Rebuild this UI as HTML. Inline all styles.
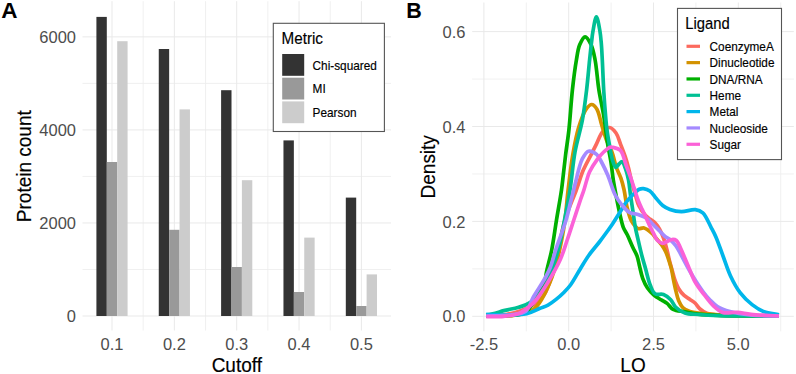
<!DOCTYPE html>
<html><head><meta charset="utf-8"><style>
html,body{margin:0;padding:0;background:#fff;}
svg{display:block;font-family:"Liberation Sans",sans-serif;}
</style></head><body>
<svg width="796" height="374" viewBox="0 0 796 374">
<rect width="796" height="374" fill="#fff"/>
<line x1="82.5" y1="269.48" x2="391.0" y2="269.48" stroke="#EDEDED" stroke-width="0.85"/>
<line x1="82.5" y1="176.44" x2="391.0" y2="176.44" stroke="#EDEDED" stroke-width="0.85"/>
<line x1="82.5" y1="83.40" x2="391.0" y2="83.40" stroke="#EDEDED" stroke-width="0.85"/>
<line x1="143.17" y1="1.2" x2="143.17" y2="330.5" stroke="#EDEDED" stroke-width="0.85"/>
<line x1="205.52" y1="1.2" x2="205.52" y2="330.5" stroke="#EDEDED" stroke-width="0.85"/>
<line x1="267.88" y1="1.2" x2="267.88" y2="330.5" stroke="#EDEDED" stroke-width="0.85"/>
<line x1="330.23" y1="1.2" x2="330.23" y2="330.5" stroke="#EDEDED" stroke-width="0.85"/>
<line x1="82.5" y1="316.00" x2="391.0" y2="316.00" stroke="#E9E9E9" stroke-width="1.0"/>
<line x1="82.5" y1="222.96" x2="391.0" y2="222.96" stroke="#E9E9E9" stroke-width="1.0"/>
<line x1="82.5" y1="129.92" x2="391.0" y2="129.92" stroke="#E9E9E9" stroke-width="1.0"/>
<line x1="82.5" y1="36.88" x2="391.0" y2="36.88" stroke="#E9E9E9" stroke-width="1.0"/>
<line x1="112.00" y1="1.2" x2="112.00" y2="330.5" stroke="#E9E9E9" stroke-width="1.0"/>
<line x1="174.35" y1="1.2" x2="174.35" y2="330.5" stroke="#E9E9E9" stroke-width="1.0"/>
<line x1="236.70" y1="1.2" x2="236.70" y2="330.5" stroke="#E9E9E9" stroke-width="1.0"/>
<line x1="299.05" y1="1.2" x2="299.05" y2="330.5" stroke="#E9E9E9" stroke-width="1.0"/>
<line x1="361.40" y1="1.2" x2="361.40" y2="330.5" stroke="#E9E9E9" stroke-width="1.0"/>
<rect x="96.41" y="16.90" width="10.39" height="299.10" fill="#333333"/>
<rect x="106.80" y="162.00" width="10.39" height="154.00" fill="#999999"/>
<rect x="117.20" y="41.20" width="10.39" height="274.80" fill="#CCCCCC"/>
<rect x="158.76" y="49.00" width="10.39" height="267.00" fill="#333333"/>
<rect x="169.15" y="229.80" width="10.39" height="86.20" fill="#999999"/>
<rect x="179.55" y="109.40" width="10.39" height="206.60" fill="#CCCCCC"/>
<rect x="221.11" y="90.20" width="10.39" height="225.80" fill="#333333"/>
<rect x="231.50" y="267.00" width="10.39" height="49.00" fill="#999999"/>
<rect x="241.90" y="180.20" width="10.39" height="135.80" fill="#CCCCCC"/>
<rect x="283.46" y="140.40" width="10.39" height="175.60" fill="#333333"/>
<rect x="293.85" y="292.00" width="10.39" height="24.00" fill="#999999"/>
<rect x="304.25" y="237.60" width="10.39" height="78.40" fill="#CCCCCC"/>
<rect x="345.81" y="197.60" width="10.39" height="118.40" fill="#333333"/>
<rect x="356.20" y="306.00" width="10.39" height="10.00" fill="#999999"/>
<rect x="366.60" y="274.40" width="10.39" height="41.60" fill="#CCCCCC"/>
<line x1="472.2" y1="268.85" x2="793.8" y2="268.85" stroke="#EDEDED" stroke-width="0.85"/>
<line x1="472.2" y1="173.95" x2="793.8" y2="173.95" stroke="#EDEDED" stroke-width="0.85"/>
<line x1="472.2" y1="79.05" x2="793.8" y2="79.05" stroke="#EDEDED" stroke-width="0.85"/>
<line x1="526.30" y1="2.5" x2="526.30" y2="331.3" stroke="#EDEDED" stroke-width="0.85"/>
<line x1="611.10" y1="2.5" x2="611.10" y2="331.3" stroke="#EDEDED" stroke-width="0.85"/>
<line x1="695.90" y1="2.5" x2="695.90" y2="331.3" stroke="#EDEDED" stroke-width="0.85"/>
<line x1="780.70" y1="2.5" x2="780.70" y2="331.3" stroke="#EDEDED" stroke-width="0.85"/>
<line x1="472.2" y1="316.30" x2="793.8" y2="316.30" stroke="#E9E9E9" stroke-width="1.0"/>
<line x1="472.2" y1="221.40" x2="793.8" y2="221.40" stroke="#E9E9E9" stroke-width="1.0"/>
<line x1="472.2" y1="126.50" x2="793.8" y2="126.50" stroke="#E9E9E9" stroke-width="1.0"/>
<line x1="472.2" y1="31.60" x2="793.8" y2="31.60" stroke="#E9E9E9" stroke-width="1.0"/>
<line x1="483.90" y1="2.5" x2="483.90" y2="331.3" stroke="#E9E9E9" stroke-width="1.0"/>
<line x1="568.70" y1="2.5" x2="568.70" y2="331.3" stroke="#E9E9E9" stroke-width="1.0"/>
<line x1="653.50" y1="2.5" x2="653.50" y2="331.3" stroke="#E9E9E9" stroke-width="1.0"/>
<line x1="738.30" y1="2.5" x2="738.30" y2="331.3" stroke="#E9E9E9" stroke-width="1.0"/>
<path d="M486.20,316.00 C492.80,315.50 500.01,315.47 506.00,314.50 C511.11,313.67 515.49,312.59 520.00,311.00 C524.49,309.42 529.03,307.63 533.00,305.00 C537.04,302.32 540.99,299.33 544.00,295.00 C547.62,289.78 549.73,282.13 552.00,275.00 C554.48,267.21 555.91,258.79 558.00,250.00 C560.33,240.20 562.21,228.98 565.30,218.90 C568.34,208.99 573.09,198.76 576.30,190.00 C578.95,182.77 580.66,176.29 583.30,170.10 C585.74,164.39 589.03,158.81 591.40,154.10 C593.27,150.38 594.65,147.59 596.40,144.10 C598.33,140.26 599.94,134.85 602.50,132.00 C604.51,129.77 607.26,127.35 609.50,127.50 C611.76,127.65 614.25,130.58 616.00,133.00 C618.08,135.87 619.00,140.26 620.50,144.10 C622.10,148.20 623.93,152.76 625.30,156.90 C626.56,160.71 627.51,164.18 628.50,168.00 C629.55,172.03 630.31,176.19 631.40,180.50 C632.58,185.17 634.05,190.51 635.40,195.00 C636.59,198.93 637.30,202.58 639.00,206.00 C640.70,209.42 643.42,213.15 645.60,215.50 C647.18,217.20 648.70,218.02 650.30,219.30 C651.96,220.62 653.87,221.71 655.40,223.30 C657.03,225.00 658.41,227.04 659.70,229.30 C661.16,231.86 662.35,234.83 663.50,238.00 C664.82,241.64 665.95,245.99 667.00,250.00 C668.05,253.99 668.83,258.24 669.80,262.00 C670.67,265.36 671.65,268.48 672.50,271.50 C673.27,274.25 673.75,276.69 674.70,279.40 C675.76,282.41 677.04,285.95 678.70,288.70 C680.23,291.23 682.11,293.57 684.10,295.40 C685.91,297.07 688.12,298.09 690.00,299.40 C691.74,300.62 693.42,301.53 695.00,303.00 C696.78,304.66 698.05,307.29 700.00,309.00 C701.98,310.73 704.13,312.28 706.80,313.30 C709.97,314.51 712.75,314.72 718.00,315.20 C730.17,316.31 758.67,315.73 779.00,316.00" fill="none" stroke="#FC6A5E" stroke-width="3.7" stroke-linecap="butt" stroke-linejoin="round"/>
<path d="M486.20,316.00 C492.80,316.00 499.98,316.32 506.00,316.00 C511.08,315.73 515.45,315.57 520.00,314.50 C524.59,313.42 529.93,311.89 533.40,309.50 C536.30,307.50 538.00,304.87 540.00,302.00 C542.25,298.79 544.09,294.94 546.00,291.00 C548.11,286.66 550.20,281.87 552.00,277.00 C553.89,271.89 555.48,266.66 557.00,261.00 C558.68,254.74 560.18,247.77 561.50,241.00 C562.85,234.10 563.97,227.64 565.00,220.00 C566.23,210.91 566.86,200.44 568.10,190.00 C569.46,178.56 570.99,165.08 572.90,154.10 C574.54,144.67 576.09,135.88 578.50,128.00 C580.59,121.15 583.11,113.29 586.00,109.30 C587.76,106.87 589.86,104.48 591.70,104.50 C593.46,104.52 595.35,106.75 596.80,109.00 C599.09,112.56 600.14,120.01 601.80,125.30 C603.38,130.33 604.92,135.96 606.50,140.00 C607.66,142.96 608.93,145.03 610.00,147.50 C611.02,149.86 611.91,151.82 612.80,154.50 C613.94,157.93 614.66,162.57 616.00,166.50 C617.35,170.47 619.54,174.25 620.90,178.20 C622.23,182.08 623.13,185.64 624.10,190.00 C625.28,195.30 625.87,202.38 627.20,207.80 C628.35,212.49 629.53,217.26 631.30,220.70 C632.66,223.34 634.67,225.74 636.10,227.10 C636.96,227.91 637.48,228.46 638.50,228.70 C639.93,229.04 642.17,227.52 644.10,228.00 C646.62,228.62 650.07,231.75 652.00,233.50 C653.34,234.71 653.81,235.59 655.00,237.00 C656.80,239.12 659.84,242.38 661.70,245.00 C663.31,247.27 664.50,249.16 665.70,251.70 C667.12,254.71 668.39,258.92 669.40,262.00 C670.21,264.46 670.79,266.19 671.40,268.70 C672.16,271.83 672.66,275.74 673.40,279.40 C674.18,283.29 675.06,287.66 676.00,291.40 C676.84,294.74 677.49,298.00 678.70,300.80 C679.78,303.30 680.86,305.73 682.70,307.50 C684.60,309.33 686.43,310.40 690.00,311.50 C697.83,313.92 715.89,314.63 729.90,315.40 C745.40,316.25 762.63,315.80 779.00,316.00" fill="none" stroke="#D39200" stroke-width="3.7" stroke-linecap="butt" stroke-linejoin="round"/>
<path d="M486.20,316.00 C494.13,315.83 502.89,316.34 510.00,315.50 C515.90,314.80 521.53,315.05 526.00,312.00 C531.14,308.49 534.65,298.85 538.00,294.00 C540.31,290.65 542.59,288.92 544.00,285.60 C545.63,281.76 545.44,277.06 546.50,272.00 C547.86,265.53 550.13,257.93 551.70,250.00 C553.52,240.80 554.87,230.00 556.50,220.00 C558.13,210.00 560.31,198.31 561.50,190.00 C562.34,184.12 562.66,180.34 563.30,174.90 C564.05,168.52 564.81,161.28 565.70,154.10 C566.66,146.36 567.90,139.06 568.90,130.00 C570.18,118.36 571.04,102.36 572.40,90.00 C573.58,79.27 574.95,68.29 576.40,60.00 C577.44,54.06 577.94,48.93 579.70,44.80 C581.09,41.55 583.22,36.85 585.10,36.80 C587.02,36.75 589.52,41.52 591.10,44.80 C593.09,48.91 593.94,54.04 595.10,60.00 C596.71,68.27 597.40,80.41 598.90,90.00 C600.30,98.92 602.26,106.90 603.70,115.70 C605.21,124.91 606.36,135.77 607.70,144.10 C608.76,150.68 609.97,155.76 610.90,161.70 C611.84,167.73 612.40,174.21 613.30,180.00 C614.12,185.26 615.04,189.92 616.00,195.00 C617.00,200.25 618.01,205.67 619.20,211.00 C620.40,216.37 621.54,222.76 623.20,227.10 C624.42,230.29 625.96,232.02 627.40,235.00 C629.20,238.72 631.25,244.04 633.00,247.80 C634.41,250.83 635.94,253.03 637.00,255.90 C638.10,258.91 638.53,262.07 639.40,265.50 C640.41,269.46 641.25,274.40 642.70,278.30 C644.01,281.83 645.55,285.15 647.50,288.00 C649.33,290.67 651.57,293.00 653.90,295.00 C656.12,296.91 658.79,298.34 661.10,299.80 C663.17,301.11 665.19,301.91 667.10,303.40 C669.21,305.04 670.51,308.01 673.10,309.40 C676.19,311.06 680.85,311.02 684.90,311.80 C689.17,312.62 693.13,313.60 698.10,314.20 C704.46,314.96 710.92,315.19 720.00,315.50 C734.89,316.00 759.33,315.83 779.00,316.00" fill="none" stroke="#00B000" stroke-width="3.7" stroke-linecap="butt" stroke-linejoin="round"/>
<path d="M486.20,315.00 C489.20,314.43 492.26,314.04 495.20,313.30 C498.12,312.57 500.52,311.48 503.80,310.60 C508.07,309.46 514.09,308.78 518.70,307.30 C522.93,305.95 526.69,304.94 530.50,302.30 C535.23,299.03 540.08,294.44 544.10,288.00 C549.86,278.77 554.72,262.04 558.20,250.00 C561.22,239.53 562.53,230.01 564.50,220.00 C566.46,210.01 568.33,200.61 570.00,190.00 C571.87,178.10 572.82,164.07 575.00,152.00 C577.02,140.82 580.45,130.54 582.40,120.00 C584.27,109.88 585.40,100.01 586.60,90.00 C587.80,80.01 588.71,68.53 589.60,60.00 C590.26,53.65 590.79,48.53 591.40,43.40 C591.93,38.96 592.22,35.25 593.00,31.00 C593.84,26.41 595.25,16.80 596.40,16.80 C597.55,16.80 599.08,26.40 599.90,31.00 C600.66,35.25 600.92,38.96 601.30,43.40 C601.74,48.53 601.96,53.65 602.30,60.00 C602.76,68.53 603.13,80.46 603.70,90.00 C604.22,98.72 604.87,107.73 605.50,115.00 C605.98,120.64 606.35,125.09 607.00,130.00 C607.63,134.78 608.42,139.26 609.30,144.10 C610.24,149.27 611.16,155.86 612.50,160.10 C613.43,163.07 614.43,167.17 615.70,167.40 C616.68,167.58 617.88,164.98 619.00,164.00 C620.01,163.11 621.17,161.48 622.10,161.70 C623.37,162.01 624.34,165.66 625.30,168.20 C626.55,171.50 627.65,175.80 628.50,180.00 C629.44,184.67 629.78,189.92 630.50,195.00 C631.24,200.25 632.10,205.66 632.90,211.00 C633.70,216.36 634.34,221.90 635.30,227.10 C636.22,232.05 637.42,236.78 638.50,241.50 C639.55,246.08 640.54,250.51 641.70,255.00 C642.87,259.51 644.15,263.76 645.50,268.50 C647.00,273.80 648.39,280.74 650.30,285.30 C651.73,288.71 652.77,292.31 655.10,293.80 C657.27,295.19 660.93,293.54 663.50,294.50 C666.15,295.49 668.69,297.69 670.70,299.80 C672.68,301.87 673.36,304.90 675.50,307.00 C677.93,309.39 681.34,311.74 684.90,313.00 C688.79,314.38 693.14,314.09 698.10,314.50 C704.47,315.02 710.92,315.34 720.00,315.60 C734.89,316.02 759.33,315.87 779.00,316.00" fill="none" stroke="#00C094" stroke-width="3.7" stroke-linecap="butt" stroke-linejoin="round"/>
<path d="M486.20,314.30 C492.97,314.60 499.74,315.30 506.50,315.20 C513.24,315.10 520.76,315.09 526.70,313.70 C531.70,312.53 536.13,309.86 540.00,308.30 C543.00,307.09 545.40,306.51 548.00,305.10 C550.78,303.59 553.47,301.50 556.10,299.40 C558.84,297.21 561.64,294.67 564.10,292.20 C566.42,289.86 568.28,288.01 570.50,285.00 C573.63,280.77 577.23,273.84 580.40,268.70 C583.27,264.06 585.63,259.84 588.70,255.50 C591.93,250.94 596.19,246.19 599.40,242.00 C602.13,238.44 604.51,235.16 606.80,232.00 C608.84,229.19 610.43,227.09 612.50,224.00 C615.23,219.93 619.05,213.64 621.60,209.60 C623.45,206.67 624.49,204.50 626.40,202.00 C628.52,199.22 631.55,196.09 633.90,193.80 C635.76,191.98 637.40,190.02 639.20,189.20 C640.61,188.56 641.95,188.43 643.50,188.60 C645.45,188.82 647.93,189.62 649.90,191.00 C652.27,192.66 654.15,196.06 656.30,198.50 C658.41,200.89 660.33,203.64 662.70,205.50 C664.92,207.25 667.21,208.49 670.00,209.50 C673.30,210.69 677.40,211.62 681.40,211.70 C685.80,211.79 691.43,209.11 695.30,209.60 C698.24,209.98 700.52,210.77 702.80,212.80 C706.11,215.76 708.93,223.35 711.30,227.80 C713.15,231.27 714.37,233.46 716.00,237.20 C718.28,242.44 720.80,250.08 723.20,256.50 C725.60,262.91 727.54,269.61 730.40,275.70 C733.19,281.63 736.32,287.66 740.10,292.60 C743.63,297.21 747.89,301.31 752.10,304.60 C755.93,307.59 759.72,310.12 764.10,311.80 C768.66,313.55 774.03,313.73 779.00,314.70" fill="none" stroke="#00B6EB" stroke-width="3.7" stroke-linecap="butt" stroke-linejoin="round"/>
<path d="M486.20,316.00 C494.13,315.67 502.90,316.03 510.00,315.00 C515.91,314.15 522.09,314.07 526.00,311.00 C529.83,308.00 530.62,301.84 533.40,297.00 C536.53,291.55 541.07,285.24 544.00,280.00 C546.40,275.71 548.18,272.48 550.00,268.00 C552.16,262.68 553.47,256.74 555.70,250.00 C558.58,241.30 563.32,229.16 566.00,220.20 C568.15,213.01 569.36,206.99 571.00,200.50 C572.60,194.16 574.27,187.41 575.70,181.70 C576.90,176.91 577.83,172.48 579.00,168.50 C579.99,165.14 580.56,162.15 582.10,159.30 C583.69,156.37 585.95,151.89 588.50,151.20 C590.85,150.57 594.40,152.57 596.60,154.40 C598.98,156.38 600.26,159.82 602.00,163.00 C604.01,166.68 605.84,170.67 607.80,175.30 C610.23,181.05 612.50,189.72 615.20,195.00 C617.20,198.91 619.18,201.65 621.60,204.60 C624.01,207.54 626.94,211.21 629.70,212.70 C631.77,213.81 634.15,213.51 636.00,214.00 C637.50,214.40 638.51,214.73 640.00,215.30 C641.98,216.06 644.72,216.89 646.80,218.30 C649.01,219.80 650.80,222.22 652.80,224.20 C654.80,226.19 656.80,228.20 658.80,230.20 C660.80,232.20 662.78,234.58 664.80,236.20 C666.52,237.58 668.30,238.08 670.00,239.50 C672.04,241.20 673.94,243.14 676.00,246.00 C679.11,250.32 682.64,258.23 685.70,263.70 C688.37,268.46 690.54,272.52 693.30,277.00 C696.24,281.78 699.83,287.38 702.90,291.50 C705.35,294.79 707.51,297.44 710.00,300.00 C712.35,302.41 714.43,304.67 717.40,306.50 C720.88,308.63 725.16,310.16 729.90,311.50 C735.73,313.16 742.66,314.24 750.00,315.00 C758.75,315.91 769.33,315.67 779.00,316.00" fill="none" stroke="#A58AFF" stroke-width="3.7" stroke-linecap="butt" stroke-linejoin="round"/>
<path d="M486.20,316.70 C492.07,316.57 498.20,316.87 503.80,316.30 C508.99,315.77 514.35,315.32 518.70,313.60 C522.60,312.06 525.91,309.40 528.90,307.00 C531.61,304.83 533.52,302.99 536.00,300.00 C539.53,295.75 543.55,289.46 547.30,283.30 C551.65,276.16 556.87,267.17 560.30,259.50 C563.29,252.80 564.96,246.55 567.20,240.00 C569.46,233.39 571.60,226.67 573.80,220.00 C576.00,213.33 578.52,205.52 580.40,200.00 C581.73,196.09 582.83,193.35 583.90,190.00 C584.96,186.68 585.82,183.14 586.80,180.00 C587.69,177.17 588.15,174.89 589.50,172.00 C591.30,168.16 594.68,162.86 597.30,159.30 C599.42,156.43 601.47,154.09 603.70,152.00 C605.72,150.12 608.30,147.74 610.00,147.20 C610.96,146.90 611.46,147.08 612.50,147.30 C614.44,147.71 618.39,148.35 620.50,150.50 C623.33,153.38 624.32,160.53 626.00,165.00 C627.44,168.84 628.70,172.02 630.00,175.70 C631.37,179.57 632.67,183.69 634.00,187.70 C635.34,191.72 636.58,196.06 638.00,199.80 C639.27,203.13 640.69,206.19 642.00,209.10 C643.18,211.72 644.31,213.94 645.50,216.50 C646.78,219.25 648.04,222.26 649.40,225.10 C650.77,227.96 652.29,230.93 653.70,233.60 C654.98,236.03 655.86,238.85 657.50,240.50 C658.90,241.91 660.82,243.17 662.50,243.30 C664.09,243.42 665.71,242.13 667.30,241.50 C668.91,240.86 670.52,239.63 672.10,239.50 C673.55,239.38 675.16,239.56 676.40,240.50 C678.09,241.78 679.13,245.11 680.40,247.70 C681.81,250.57 683.07,253.89 684.40,257.00 C685.74,260.12 686.90,262.88 688.40,266.40 C690.32,270.90 692.31,277.01 695.00,281.80 C697.63,286.49 701.11,290.75 704.30,294.90 C707.35,298.87 710.39,303.17 713.70,306.20 C716.54,308.81 719.06,311.30 722.60,312.40 C726.72,313.68 732.51,311.97 737.30,312.30 C741.93,312.62 745.54,313.74 750.90,314.30 C758.57,315.09 769.63,315.43 779.00,316.00" fill="none" stroke="#FB61D7" stroke-width="3.7" stroke-linecap="butt" stroke-linejoin="round"/>
<text transform="translate(1.30,17.60)" font-size="22.5" fill="#000" text-anchor="start" font-weight="bold" stroke="#000" stroke-width="0">A</text>
<text transform="translate(406.30,17.60) scale(1,1.065)" font-size="21.5" fill="#000" text-anchor="start" font-weight="bold" stroke="#000" stroke-width="0">B</text>
<text transform="translate(76.00,322.10) scale(1,1.02)" font-size="16.5" fill="#4D4D4D" text-anchor="end" font-weight="normal" stroke="#4D4D4D" stroke-width="0">0</text>
<text transform="translate(76.00,229.06) scale(1,1.02)" font-size="16.5" fill="#4D4D4D" text-anchor="end" font-weight="normal" stroke="#4D4D4D" stroke-width="0">2000</text>
<text transform="translate(76.00,136.02) scale(1,1.02)" font-size="16.5" fill="#4D4D4D" text-anchor="end" font-weight="normal" stroke="#4D4D4D" stroke-width="0">4000</text>
<text transform="translate(76.00,42.98) scale(1,1.02)" font-size="16.5" fill="#4D4D4D" text-anchor="end" font-weight="normal" stroke="#4D4D4D" stroke-width="0">6000</text>
<text transform="translate(112.00,349.80) scale(1,1.02)" font-size="16.5" fill="#4D4D4D" text-anchor="middle" font-weight="normal" stroke="#4D4D4D" stroke-width="0">0.1</text>
<text transform="translate(174.35,349.80) scale(1,1.02)" font-size="16.5" fill="#4D4D4D" text-anchor="middle" font-weight="normal" stroke="#4D4D4D" stroke-width="0">0.2</text>
<text transform="translate(236.70,349.80) scale(1,1.02)" font-size="16.5" fill="#4D4D4D" text-anchor="middle" font-weight="normal" stroke="#4D4D4D" stroke-width="0">0.3</text>
<text transform="translate(299.05,349.80) scale(1,1.02)" font-size="16.5" fill="#4D4D4D" text-anchor="middle" font-weight="normal" stroke="#4D4D4D" stroke-width="0">0.4</text>
<text transform="translate(361.40,349.80) scale(1,1.02)" font-size="16.5" fill="#4D4D4D" text-anchor="middle" font-weight="normal" stroke="#4D4D4D" stroke-width="0">0.5</text>
<text transform="translate(236.80,371.80) scale(1,1.06)" font-size="19" fill="#000" text-anchor="middle" font-weight="normal" stroke="#000" stroke-width="0.15">Cutoff</text>
<text transform="translate(31.40,166.20) rotate(-90) scale(1,1.06)" font-size="19" fill="#000" text-anchor="middle" font-weight="normal" stroke="#000" stroke-width="0.15">Protein count</text>
<text transform="translate(465.50,322.40) scale(1,1.02)" font-size="16.5" fill="#4D4D4D" text-anchor="end" font-weight="normal" stroke="#4D4D4D" stroke-width="0">0.0</text>
<text transform="translate(465.50,227.50) scale(1,1.02)" font-size="16.5" fill="#4D4D4D" text-anchor="end" font-weight="normal" stroke="#4D4D4D" stroke-width="0">0.2</text>
<text transform="translate(465.50,132.60) scale(1,1.02)" font-size="16.5" fill="#4D4D4D" text-anchor="end" font-weight="normal" stroke="#4D4D4D" stroke-width="0">0.4</text>
<text transform="translate(465.50,37.70) scale(1,1.02)" font-size="16.5" fill="#4D4D4D" text-anchor="end" font-weight="normal" stroke="#4D4D4D" stroke-width="0">0.6</text>
<text transform="translate(483.90,349.80) scale(1,1.02)" font-size="16.5" fill="#4D4D4D" text-anchor="middle" font-weight="normal" stroke="#4D4D4D" stroke-width="0">-2.5</text>
<text transform="translate(568.70,349.80) scale(1,1.02)" font-size="16.5" fill="#4D4D4D" text-anchor="middle" font-weight="normal" stroke="#4D4D4D" stroke-width="0">0.0</text>
<text transform="translate(653.50,349.80) scale(1,1.02)" font-size="16.5" fill="#4D4D4D" text-anchor="middle" font-weight="normal" stroke="#4D4D4D" stroke-width="0">2.5</text>
<text transform="translate(738.30,349.80) scale(1,1.02)" font-size="16.5" fill="#4D4D4D" text-anchor="middle" font-weight="normal" stroke="#4D4D4D" stroke-width="0">5.0</text>
<text transform="translate(633.00,371.80) scale(1,1.06)" font-size="19" fill="#000" text-anchor="middle" font-weight="normal" stroke="#000" stroke-width="0.15">LO</text>
<text transform="translate(434.50,166.80) rotate(-90) scale(1,1.06)" font-size="19" fill="#000" text-anchor="middle" font-weight="normal" stroke="#000" stroke-width="0.15">Density</text>
<rect x="273.3" y="23.3" width="111.1" height="108.2" fill="#FFFFFF" stroke="#555555" stroke-width="1.1"/>
<text transform="translate(281.60,43.70) scale(1,1.06)" font-size="15.2" fill="#000" text-anchor="start" font-weight="normal" stroke="#000" stroke-width="0.15">Metric</text>
<rect x="282.2" y="54.00" width="22" height="21.8" fill="#333333"/>
<text transform="translate(312.60,69.50) scale(1,1.06)" font-size="11.8" fill="#000" text-anchor="start" font-weight="normal" stroke="#000" stroke-width="0.15">Chi-squared</text>
<rect x="282.2" y="77.70" width="22" height="21.8" fill="#999999"/>
<text transform="translate(312.60,93.20) scale(1,1.06)" font-size="11.8" fill="#000" text-anchor="start" font-weight="normal" stroke="#000" stroke-width="0.15">MI</text>
<rect x="282.2" y="101.40" width="22" height="21.8" fill="#CCCCCC"/>
<text transform="translate(312.60,116.90) scale(1,1.06)" font-size="11.8" fill="#000" text-anchor="start" font-weight="normal" stroke="#000" stroke-width="0.15">Pearson</text>
<rect x="677.5" y="8.4" width="104.0" height="151.2" fill="#FFFFFF" stroke="#555555" stroke-width="1.1"/>
<text transform="translate(685.20,28.60) scale(1,1.06)" font-size="14.8" fill="#000" text-anchor="start" font-weight="normal" stroke="#000" stroke-width="0.15">Ligand</text>
<line x1="686.5" y1="46.30" x2="700.0" y2="46.30" stroke="#FC6A5E" stroke-width="3.2"/>
<text transform="translate(709.60,50.90) scale(1,1.06)" font-size="11.8" fill="#000" text-anchor="start" font-weight="normal" stroke="#000" stroke-width="0.15">CoenzymeA</text>
<line x1="686.5" y1="62.63" x2="700.0" y2="62.63" stroke="#D39200" stroke-width="3.2"/>
<text transform="translate(709.60,67.23) scale(1,1.06)" font-size="11.8" fill="#000" text-anchor="start" font-weight="normal" stroke="#000" stroke-width="0.15">Dinucleotide</text>
<line x1="686.5" y1="78.96" x2="700.0" y2="78.96" stroke="#00B000" stroke-width="3.2"/>
<text transform="translate(709.60,83.56) scale(1,1.06)" font-size="11.8" fill="#000" text-anchor="start" font-weight="normal" stroke="#000" stroke-width="0.15">DNA/RNA</text>
<line x1="686.5" y1="95.29" x2="700.0" y2="95.29" stroke="#00C094" stroke-width="3.2"/>
<text transform="translate(709.60,99.89) scale(1,1.06)" font-size="11.8" fill="#000" text-anchor="start" font-weight="normal" stroke="#000" stroke-width="0.15">Heme</text>
<line x1="686.5" y1="111.62" x2="700.0" y2="111.62" stroke="#00B6EB" stroke-width="3.2"/>
<text transform="translate(709.60,116.22) scale(1,1.06)" font-size="11.8" fill="#000" text-anchor="start" font-weight="normal" stroke="#000" stroke-width="0.15">Metal</text>
<line x1="686.5" y1="127.95" x2="700.0" y2="127.95" stroke="#A58AFF" stroke-width="3.2"/>
<text transform="translate(709.60,132.55) scale(1,1.06)" font-size="11.8" fill="#000" text-anchor="start" font-weight="normal" stroke="#000" stroke-width="0.15">Nucleoside</text>
<line x1="686.5" y1="144.28" x2="700.0" y2="144.28" stroke="#FB61D7" stroke-width="3.2"/>
<text transform="translate(709.60,148.88) scale(1,1.06)" font-size="11.8" fill="#000" text-anchor="start" font-weight="normal" stroke="#000" stroke-width="0.15">Sugar</text>
</svg></body></html>
